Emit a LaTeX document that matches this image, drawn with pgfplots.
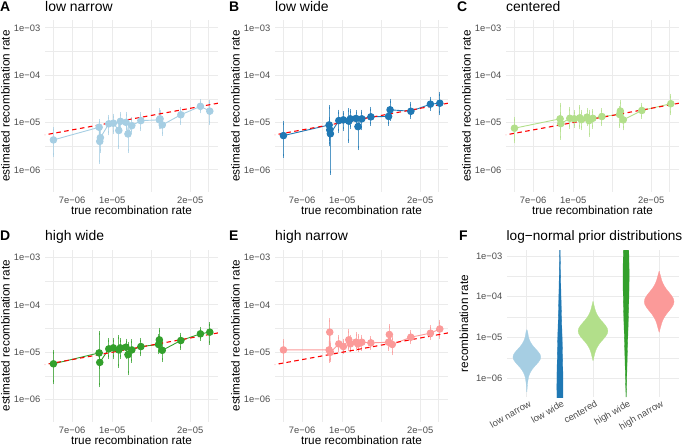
\documentclass[border=0pt]{standalone}
\usepackage{fontspec}
\setmainfont{Liberation Sans}
\usepackage{pgfplots}
\usepackage{pgfplotstable}
\pgfplotsset{compat=1.18}

\definecolor{lnarrow}{HTML}{A6CEE3}
\definecolor{lwide}{HTML}{1F78B4}
\definecolor{cent}{HTML}{B2DF8A}
\definecolor{hwide}{HTML}{33A02C}
\definecolor{hnarrow}{HTML}{FB9A99}
\definecolor{gridc}{HTML}{EBEBEB}
\definecolor{tickc}{HTML}{4D4D4D}

% estimates per panel: true rate, mean, interval
\pgfplotstableread{
x y lo hi
5.93e-6 4.3e-6 2.1e-6 7.3e-6
8.9e-6 7.96e-6 5.7e-6 1.06e-5
8.95e-6 4.0e-6 1.5e-6 6.0e-6
9.0e-6 4.8e-6 2.5e-6 8.0e-6
9.7e-6 9.4e-6 5.9e-6 1.32e-5
1.01e-5 9.7e-6 6.2e-6 1.4e-5
1.06e-5 6.8e-6 3.0e-6 1.1e-5
1.075e-5 1.06e-5 7.35e-6 1.53e-5
1.13e-5 1.01e-5 6.8e-6 1.53e-5
1.15e-5 5.75e-6 2.55e-6 9.4e-6
1.19e-5 8.6e-6 6.2e-6 1.2e-5
1.29e-5 1.1e-5 7.3e-6 1.53e-5
1.52e-5 1.14e-5 8.0e-6 1.8e-5
1.53e-5 1.2e-5 8.0e-6 1.7e-5
1.56e-5 8.9e-6 5.75e-6 1.2e-5
1.84e-5 1.46e-5 1.0e-5 1.95e-5
2.19e-5 2.2e-5 1.73e-5 2.83e-5
2.38e-5 1.74e-5 1.0e-5 2.7e-5
}\tabA
\pgfplotstableread{
x y lo hi
5.93e-6 5.3e-6 2.0e-6 1.0e-5
8.9e-6 8.9e-6 4.5e-6 2.1e-5
8.95e-6 7.0e-6 3.5e-6 1.2e-5
9.0e-6 5.8e-6 8.7e-7 9.0e-6
9.7e-6 1.1e-5 6.5e-6 1.7e-5
1.01e-5 1.14e-5 7.3e-6 1.6e-5
1.06e-5 1.07e-5 4.1e-6 1.8e-5
1.075e-5 1.2e-5 8.0e-6 1.75e-5
1.13e-5 1.22e-5 8.0e-6 1.65e-5
1.15e-5 8.2e-6 2.9e-6 1.2e-5
1.19e-5 1.2e-5 7.5e-6 1.7e-5
1.29e-5 1.32e-5 9.4e-6 1.95e-5
1.51e-5 1.35e-5 9.5e-6 1.8e-5
1.53e-5 1.86e-5 1.2e-5 2.9e-5
1.84e-5 1.73e-5 1.3e-5 2.5e-5
2.19e-5 2.45e-5 1.95e-5 3.2e-5
2.38e-5 2.56e-5 1.57e-5 4.06e-5
}\tabB
\pgfplotstableread{
x y lo hi
5.93e-6 7.6e-6 4.0e-6 1.2e-5
8.9e-6 1.2e-5 7.0e-6 2.4e-5
8.95e-6 9.5e-6 4.8e-6 1.5e-5
9.7e-6 1.23e-5 7.9e-6 1.95e-5
1.01e-5 1.2e-5 8.6e-6 1.65e-5
1.06e-5 1.26e-5 7.9e-6 2.1e-5
1.075e-5 1.15e-5 7.5e-6 1.7e-5
1.13e-5 1.3e-5 9.4e-6 1.86e-5
1.15e-5 1.1e-5 5.55e-6 1.7e-5
1.19e-5 1.23e-5 8.2e-6 1.73e-5
1.29e-5 1.34e-5 9.4e-6 1.8e-5
1.51e-5 1.48e-5 8.6e-6 2.0e-5
1.52e-5 1.75e-5 1.1e-5 2.7e-5
1.56e-5 1.14e-5 7.5e-6 1.6e-5
1.84e-5 1.8e-5 1.3e-5 2.4e-5
2.38e-5 2.5e-5 1.57e-5 3.7e-5
}\tabC
\pgfplotstableread{
x y lo hi
5.93e-6 5.7e-6 2.3e-6 1.0e-5
8.9e-6 9.7e-6 5.0e-6 2.5e-5
8.95e-6 6.1e-6 2.0e-6 1.0e-5
9.7e-6 1.18e-5 7.8e-6 1.83e-5
1.01e-5 1.24e-5 7.8e-6 1.83e-5
1.06e-5 1.12e-5 5.2e-6 2.08e-5
1.075e-5 1.24e-5 8.0e-6 1.8e-5
1.13e-5 1.28e-5 7.8e-6 1.77e-5
1.15e-5 8.9e-6 3.6e-6 1.5e-5
1.19e-5 1.12e-5 6.7e-6 1.7e-5
1.29e-5 1.32e-5 9.0e-6 1.83e-5
1.51e-5 1.46e-5 1.0e-5 2.2e-5
1.52e-5 1.83e-5 1.2e-5 3.0e-5
1.56e-5 1.1e-5 6.9e-6 1.63e-5
1.84e-5 1.77e-5 1.24e-5 2.37e-5
2.19e-5 2.45e-5 1.92e-5 3.1e-5
2.38e-5 2.66e-5 1.58e-5 3.86e-5
}\tabD
\pgfplotstableread{
x y lo hi
5.93e-6 1.12e-5 6.1e-6 1.71e-5
8.9e-6 1.12e-5 6.7e-6 1.7e-5
8.95e-6 2.66e-5 1.5e-5 4.7e-5
9.0e-6 1.0e-5 7.0e-6 1.4e-5
9.7e-6 1.5e-5 1.12e-5 2.08e-5
1.01e-5 1.32e-5 1.0e-5 1.77e-5
1.06e-5 1.83e-5 1.18e-5 2.8e-5
1.075e-5 1.5e-5 1.12e-5 2.1e-5
1.13e-5 1.63e-5 1.18e-5 2.45e-5
1.15e-5 1.5e-5 1.1e-5 2.2e-5
1.19e-5 1.63e-5 1.18e-5 2.15e-5
1.29e-5 1.58e-5 1.24e-5 2.0e-5
1.51e-5 1.63e-5 1.18e-5 2.1e-5
1.52e-5 2.37e-5 1.83e-5 3.5e-5
1.56e-5 1.46e-5 9.5e-6 2.0e-5
1.84e-5 2.08e-5 1.63e-5 2.66e-5
2.19e-5 2.53e-5 2.0e-5 3.4e-5
2.38e-5 3.1e-5 2.15e-5 4.3e-5
}\tabE

% violin outlines: log10 rate, half width
\pgfplotstableread{
e w
-6.33 0
-6.23 0.0105
-6.105 0.0231
-5.98 0.0483
-5.9175 0.0714
-5.855 0.105
-5.7925 0.1512
-5.73 0.21
-5.6675 0.2814
-5.605 0.3486
-5.5425 0.4011
-5.48 0.42
-5.4175 0.4011
-5.355 0.3486
-5.2925 0.2814
-5.23 0.21
-5.1675 0.1512
-5.105 0.105
-5.0425 0.0714
-4.98 0.0483
-4.855 0.0231
-4.805 0
}\vioA
\pgfplotstableread{
e w
-6.6 0
-6.6 0.09
-6.2 0.092
-5.9 0.09
-5.5 0.08
-5.1 0.07
-4.7 0.055
-4.3 0.042
-3.9 0.03
-3.5 0.021
-3.1 0.012
-2.85 0.005
-2.8 0
}\vioB
\pgfplotstableread{
e w
-5.568 0
-5.40 0.0518
-5.33 0.0765
-5.26 0.1125
-5.19 0.162
-5.12 0.225
-5.05 0.3015
-4.98 0.3735
-4.91 0.4298
-4.84 0.45
-4.77 0.4298
-4.70 0.3735
-4.63 0.3015
-4.56 0.225
-4.49 0.162
-4.42 0.1125
-4.35 0.0765
-4.28 0.0518
-4.112 0
}\vioC
\pgfplotstableread{
e w
-6.46 0
-6.2 0.012
-5.8 0.025
-5.4 0.037
-5.0 0.052
-4.6 0.066
-4.2 0.08
-3.8 0.09
-3.4 0.093
-3.0 0.085
-2.7 0.075
-2.7 0
}\vioD
\pgfplotstableread{
e w
-4.87 0
-4.72 0.0518
-4.645 0.0765
-4.57 0.1125
-4.495 0.162
-4.42 0.225
-4.345 0.3015
-4.27 0.3735
-4.195 0.4298
-4.12 0.45
-4.045 0.4298
-3.97 0.3735
-3.895 0.3015
-3.82 0.225
-3.745 0.162
-3.67 0.1125
-3.595 0.0765
-3.52 0.0518
-3.37 0
}\vioE

\pgfplotsset{
  recbase/.style={
    scale only axis, anchor=north west,
    axis line style={draw=none},
    major tick length=0pt, minor tick length=0pt,
    tick style={draw=none},
    grid=both,
    major grid style={draw=gridc, line width=1bp},
    minor grid style={draw=gridc, line width=0.5bp},
    ytick={1e-6,1e-5,1e-4,1e-3},
    yticklabels={1e−06,1e−05,1e−04,1e−03},
    minor ytick={3.162e-6,3.162e-5,3.162e-4},
    tick label style={font=\fontsize{9.4}{10}\selectfont, text=tickc},
    yticklabel style={anchor=east, inner sep=0pt, xshift=-4.5bp},
    label style={font=\fontsize{11.8}{13}\selectfont},
  },
  scat/.style={
    recbase, width=173bp, height=172bp,
    xmin=5.5e-6, xmax=2.56e-5,
    ymin=3.42e-7, ymax=1.462e-3,
    xtick={7e-6,1e-5,2e-5}, xticklabels={7e−06,1e−05,2e−05},
    minor xtick={5.92e-6,8.37e-6,1.414e-5,2.35e-5},
    xticklabel style={anchor=north, inner sep=0pt, yshift=-4.8bp},
    xlabel={true recombination rate},
    ylabel={estimated recombination rate},
    xlabel style={at={(axis description cs:0.5,-0.13)}, anchor=base},
    ylabel style={at={(axis description cs:-0.228,0.5)}, anchor=center},
  },
  ser/.style={color=#1, line width=0.9bp, mark=*, mark size=3.3bp,
    mark options={draw=none, fill=#1},
    error bars/y dir=both, error bars/y explicit,
    error bars/error bar style={line width=0.8bp, draw opacity=0.75},
    error bars/error mark options={line width=0.8bp, mark size=2bp, draw opacity=0.75}},
  diag/.style={draw=red, line width=1.1bp, dash pattern=on 4.5bp off 3.5bp, no markers, forget plot},
  vio/.style={fill=#1, draw=#1, no markers, line width=0.3bp},
}
\tikzset{
  ttl/.style={font=\fontsize{14}{16}\selectfont, anchor=base west, inner sep=0pt},
  tag/.style={font=\fontsize{14}{16}\selectfont\bfseries, anchor=base west, inner sep=0pt},
}

\begin{document}
\begin{tikzpicture}
\useasboundingbox (0,0) rectangle (685bp,-447bp);

\begin{loglogaxis}[scat, at={(45bp,-20bp)}]
\addplot[ser=lnarrow] table[x=x, y=y, y error plus expr=\thisrow{hi}-\thisrow{y}, y error minus expr=\thisrow{y}-\thisrow{lo}] {\tabA};
\addplot[diag] coordinates {(4e-6,4e-6) (3e-5,3e-5)};
\end{loglogaxis}
\begin{loglogaxis}[scat, at={(275bp,-20bp)}]
\addplot[ser=lwide] table[x=x, y=y, y error plus expr=\thisrow{hi}-\thisrow{y}, y error minus expr=\thisrow{y}-\thisrow{lo}] {\tabB};
\addplot[diag] coordinates {(4e-6,4e-6) (3e-5,3e-5)};
\end{loglogaxis}
\begin{loglogaxis}[scat, at={(506bp,-20bp)}]
\addplot[ser=cent] table[x=x, y=y, y error plus expr=\thisrow{hi}-\thisrow{y}, y error minus expr=\thisrow{y}-\thisrow{lo}] {\tabC};
\addplot[diag] coordinates {(4e-6,4e-6) (3e-5,3e-5)};
\end{loglogaxis}
\begin{loglogaxis}[scat, at={(45bp,-249.7bp)}]
\addplot[ser=hwide] table[x=x, y=y, y error plus expr=\thisrow{hi}-\thisrow{y}, y error minus expr=\thisrow{y}-\thisrow{lo}] {\tabD};
\addplot[diag] coordinates {(4e-6,4e-6) (3e-5,3e-5)};
\end{loglogaxis}
\begin{loglogaxis}[scat, at={(275bp,-249.7bp)}]
\addplot[ser=hnarrow] table[x=x, y=y, y error plus expr=\thisrow{hi}-\thisrow{y}, y error minus expr=\thisrow{y}-\thisrow{lo}] {\tabE};
\addplot[diag] coordinates {(4e-6,4e-6) (3e-5,3e-5)};
\end{loglogaxis}

\begin{semilogyaxis}[recbase, at={(507bp,-250bp)}, width=172bp, height=147bp,
  xmin=0.4, xmax=5.6, ymin=3.475e-7, ymax=1.403e-3,
  xtick={1,2,3,4,5},
  xticklabels={low narrow, low wide, centered, high wide, high narrow},
  xticklabel style={rotate=30, anchor=north east, inner sep=0pt, yshift=-3bp},
  ylabel={recombination rate},
  ylabel style={at={(axis description cs:-0.25,0.5)}, anchor=center}]
\addplot[vio=lnarrow] table[x expr=1+\thisrow{w}, y expr=10^(\thisrow{e})] {\vioA};
\addplot[vio=lnarrow] table[x expr=1-\thisrow{w}, y expr=10^(\thisrow{e})] {\vioA};
\addplot[vio=lwide] table[x expr=2+\thisrow{w}, y expr=10^(\thisrow{e})] {\vioB};
\addplot[vio=lwide] table[x expr=2-\thisrow{w}, y expr=10^(\thisrow{e})] {\vioB};
\addplot[vio=cent] table[x expr=3+\thisrow{w}, y expr=10^(\thisrow{e})] {\vioC};
\addplot[vio=cent] table[x expr=3-\thisrow{w}, y expr=10^(\thisrow{e})] {\vioC};
\addplot[vio=hwide] table[x expr=4+\thisrow{w}, y expr=10^(\thisrow{e})] {\vioD};
\addplot[vio=hwide] table[x expr=4-\thisrow{w}, y expr=10^(\thisrow{e})] {\vioD};
\addplot[vio=hnarrow] table[x expr=5+\thisrow{w}, y expr=10^(\thisrow{e})] {\vioE};
\addplot[vio=hnarrow] table[x expr=5-\thisrow{w}, y expr=10^(\thisrow{e})] {\vioE};
\end{semilogyaxis}

\node[tag] at (0bp,-11.7bp) {A};
\node[ttl] at (45bp,-11.7bp) {low narrow};
\node[tag] at (229bp,-11.7bp) {B};
\node[ttl] at (275bp,-11.7bp) {low wide};
\node[tag] at (457bp,-11.7bp) {C};
\node[ttl] at (506bp,-11.7bp) {centered};
\node[tag] at (0bp,-240.8bp) {D};
\node[ttl] at (45bp,-240.8bp) {high wide};
\node[tag] at (229bp,-240.8bp) {E};
\node[ttl] at (275bp,-240.8bp) {high narrow};
\node[tag] at (459bp,-240.8bp) {F};
\node[ttl, font=\fontsize{13.7}{16}\selectfont] at (506.5bp,-240.8bp) {log−normal prior distributions};
\end{tikzpicture}
\end{document}
